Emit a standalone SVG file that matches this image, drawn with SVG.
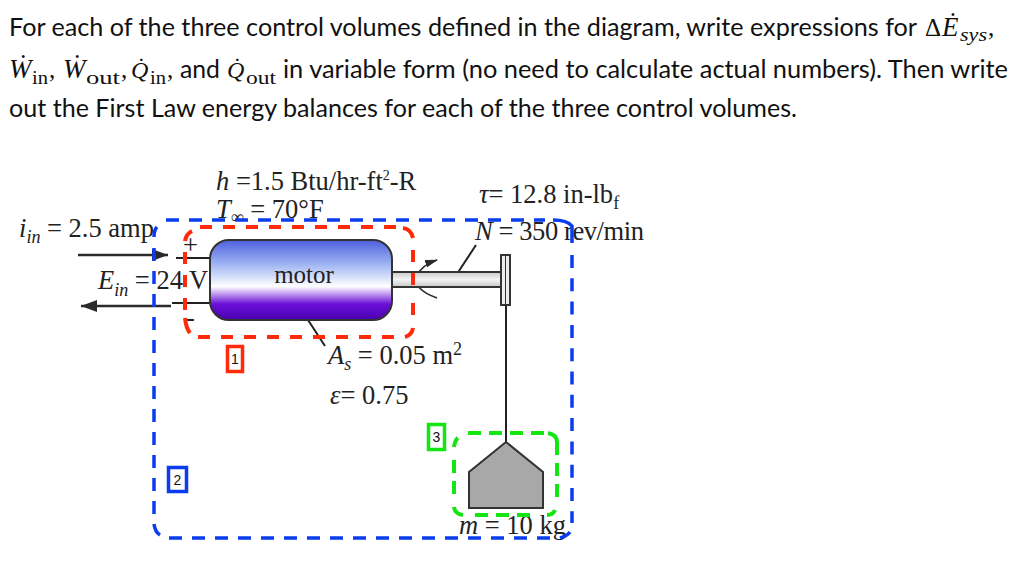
<svg xmlns="http://www.w3.org/2000/svg" width="1024" height="562" viewBox="0 0 1024 562">
<style>
.b{font-family:"Lato","Open Sans",sans-serif;font-size:25px;fill:#111}
.m{font-family:"Liberation Serif","DejaVu Serif",serif;font-size:25px;fill:#111}
.mi{font-family:"Liberation Serif","DejaVu Serif",serif;font-size:27px;font-style:italic;fill:#111}
.q{font-family:"Liberation Serif","DejaVu Serif",serif;font-size:24px;font-style:italic;fill:#111}
.s{font-family:"Liberation Serif","DejaVu Serif",serif;font-size:19px;fill:#111}
.d{font-family:"Liberation Serif",serif;font-size:26.500px;fill:#222}
.di{font-family:"Liberation Serif",serif;font-size:26.500px;font-style:italic;fill:#222}
.ds{font-family:"Liberation Serif",serif;font-size:18px;font-style:italic;fill:#222}
.sup{font-family:"Liberation Serif",serif;font-size:14px;fill:#222}
.sub{font-family:"Liberation Serif",serif;font-size:18px;fill:#222}
.w{fill:none;stroke:#222;stroke-width:2}
.n{font-family:"Liberation Sans",Arial,sans-serif;font-size:14px;fill:#111;text-anchor:middle}
.r,.bl,.g{fill:none;stroke-width:4}
.r{stroke:#ff2a0a}.bl{stroke:#0a3cf0;stroke-width:3.500}.g{stroke:#14e614}
</style>
<defs>
<linearGradient id="mg" x1="0" y1="0" x2="0" y2="1">
<stop offset="0" stop-color="#4f5fe0"/><stop offset="0.3" stop-color="#9db4f2"/><stop offset="0.58" stop-color="#ffffff"/><stop offset="0.8" stop-color="#6a10d8"/><stop offset="1" stop-color="#4a00b0"/>
</linearGradient>
<linearGradient id="sg" x1="0" y1="0" x2="0" y2="1">
<stop offset="0" stop-color="#c8c8c8"/><stop offset="0.5" stop-color="#f4f4f4"/><stop offset="1" stop-color="#c8c8c8"/>
</linearGradient>
<marker id="ah" markerWidth="20" markerHeight="14" refX="16" refY="6" orient="auto" markerUnits="userSpaceOnUse"><path d="M0 0L16 6L0 12Z" fill="#2a2a2a"/></marker>
<marker id="ar" markerWidth="14" markerHeight="12" refX="12" refY="4" orient="auto" markerUnits="userSpaceOnUse"><path d="M0 0L13 4L0 8Z" fill="#2a2a2a"/></marker>
</defs>
<rect width="1024" height="562" fill="#fff"/>

<g id="question">
<text class="b" x="9" y="36" textLength="908" lengthAdjust="spacingAndGlyphs">For each of the three control volumes defined in the diagram, write expressions for</text>
<text class="m" x="925" y="36">Δ</text><text class="mi" x="942" y="36">Ė</text><text class="s" x="960" y="41" font-style="italic" textLength="27" lengthAdjust="spacingAndGlyphs">sys</text><text class="m" x="988" y="36">,</text>
<text class="mi" x="9" y="78">Ẇ</text><text class="s" x="32" y="84" textLength="16" lengthAdjust="spacingAndGlyphs">in</text><text class="m" x="49" y="78">,</text>
<text class="mi" x="63" y="78">Ẇ</text><text class="s" x="86" y="84" textLength="34" lengthAdjust="spacingAndGlyphs">out</text><text class="m" x="121" y="78">,</text>
<text class="q" x="131" y="78">Q̇</text><text class="s" x="150" y="84" textLength="16" lengthAdjust="spacingAndGlyphs">in</text><text class="m" x="167" y="78">,</text>
<text class="b" x="180" y="78" textLength="40" lengthAdjust="spacingAndGlyphs">and</text>
<text class="q" x="227" y="78">Q̇</text><text class="s" x="246" y="84" textLength="30" lengthAdjust="spacingAndGlyphs">out</text>
<text class="b" x="283" y="78" textLength="725" lengthAdjust="spacingAndGlyphs">in variable form (no need to calculate actual numbers). Then write</text>
<text class="b" x="9" y="117" textLength="788" lengthAdjust="spacingAndGlyphs">out the First Law energy balances for each of the three control volumes.</text>
</g>

<g id="connectors">
<path class="w" d="M176 258H210M172 303H210M506 305V442"/>
<path d="M78 255H168" fill="none" stroke="#2a2a2a" stroke-width="2.500" marker-end="url(#ah)"/>
<path d="M171 306H81" fill="none" stroke="#2a2a2a" stroke-width="2.500" marker-end="url(#ah)"/>
<path class="w" d="M476 245L455 277M308 320L325 346"/>
<path d="M437 298C420 292 414 284 417 276C420 268 428 263 437 260" fill="none" stroke="#2a2a2a" stroke-width="1.600" marker-end="url(#ar)"/>
</g>

<g id="motor">
<rect x="210" y="240" width="182" height="80" rx="19" fill="url(#mg)" stroke="#333" stroke-width="2"/>
<text class="d" style="font-size:25px" x="304" y="283" text-anchor="middle">motor</text>
</g>
<g id="shaft">
<rect x="392" y="272" width="109" height="15" fill="url(#sg)" stroke="#333" stroke-width="2"/>
<rect x="501" y="255" width="9" height="50" fill="#eee" stroke="#333" stroke-width="2"/>
<path d="M505.500 255V305" stroke="#333" stroke-width="1"/>
</g>
<g id="weight">
<path d="M506 442L469 472V508H543V472Z" fill="#a8a8a8" stroke="#333" stroke-width="2"/>
</g>

<g id="labels">
<text class="d" x="183" y="254">+</text>
<text class="d" x="186" y="326">-</text>
<text x="216" y="190"><tspan class="di">h</tspan><tspan class="d"> =1.5 Btu/hr-ft</tspan><tspan class="sup" dy="-10">2</tspan><tspan class="d" dy="10">-R</tspan></text>
<text x="216" y="218"><tspan class="di">T</tspan><tspan class="sub" dy="5">∞</tspan><tspan class="d" dy="-5"> = 70°F</tspan></text>
<text x="19" y="237"><tspan class="di">i</tspan><tspan class="ds" dy="6">in</tspan><tspan class="d" dy="-6"> = 2.5 amp</tspan></text>
<text x="98" y="289"><tspan class="di">E</tspan><tspan class="ds" dy="7">in</tspan><tspan class="d" dy="-7"> = 24 V</tspan></text>
<text x="479" y="203"><tspan class="di">τ</tspan><tspan class="d">= 12.8 in-lb</tspan><tspan class="sub" dy="6">f</tspan></text>
<text x="475" y="240" textLength="169"><tspan class="di">N</tspan><tspan class="d"> = 350 rev/min</tspan></text>
<text x="328" y="364"><tspan class="di">A</tspan><tspan class="ds" dy="6">s</tspan><tspan class="d" dy="-6"> = 0.05 m</tspan><tspan class="sub" dy="-9">2</tspan></text>
<text x="330" y="404"><tspan class="di">ε</tspan><tspan class="d">= 0.75</tspan></text>
<text x="459" y="534"><tspan class="di">m</tspan><tspan class="d"> = 10 kg</tspan></text>
</g>

<g id="cv1">
<path class="r" d="M185 241Q186 234 192 231M403 228Q411 229 413 238M413 328Q412 335 405 337M185 318Q186 328 190 333"/>
<path class="r" stroke-dasharray="12 11" d="M200 227H396M198 337H398M185 252V312M413 250V262M413 273V293M413 303V317"/>
<rect x="227.500" y="346.500" width="15" height="25" fill="#fff" stroke="#ff2a0a" stroke-width="3.500"/>
<text class="n" x="235" y="364">1</text>
</g>
<g id="cv2">
<path class="bl" d="M154 237Q154 230 157 227M553 220Q567 220 572 226V243M570 532Q567 536 560 538M154 524Q155 532 160 535"/>
<path class="bl" stroke-dasharray="13 10" d="M166 220H545M169 538H552M154 248V514"/>
<path class="bl" stroke-dasharray="13 10.300" d="M572 255V523"/>
<rect x="168.500" y="467.500" width="18" height="24" fill="#fff" stroke="#0a3cf0" stroke-width="3.500"/>
<text class="n" x="177.500" y="485">2</text>
</g>
<g id="cv3">
<path class="g" d="M454 447Q455 440 458 438M548 433Q557 435 557 442M454 507Q455 514 463 515M547 515Q553 515 555 510"/>
<path class="g" stroke-dasharray="13 8" d="M468 433H548M475 515H532M557 442V500M454 460V495"/>
<rect x="428.500" y="424.500" width="16" height="25" fill="#fff" stroke="#14e614" stroke-width="3.500"/>
<text class="n" x="436.500" y="442">3</text>
</g>
</svg>
